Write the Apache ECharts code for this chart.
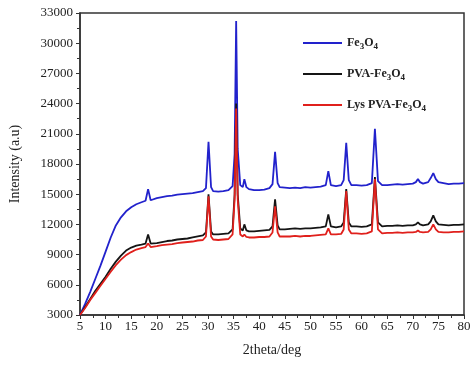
<!DOCTYPE html>
<html><head><meta charset="utf-8">
<script src="https://cdn.jsdelivr.net/npm/echarts@6/dist/echarts.min.js"></script>
<style>html,body{margin:0;padding:0;background:#fff}#c{width:474px;height:374px}</style>
</head><body><div id="c"></div>
<script>
var theta = [5,6,7,8,9,10,11,12,13,14,15,16,17,17.8,18.3,18.8,19,20,21,22,23,24,25,26,27,28,29,29.6,30.1,30.6,31,32,33,34,34.8,35.2,35.5,35.8,36.3,36.8,37.1,37.5,38,39,40,41,42,42.6,43.1,43.6,44,45,46,47,48,49,50,51,52,53,53.5,54,55,56,56.5,57,57.5,58,59,60,61,62,62.6,63.2,64,65,66,67,68,69,70,70.6,71,71.4,72,73,73.5,74,74.5,75,76,77,78,79,80];
var fe3o4 = [3000,4100,5300,6600,7900,9300,10700,11900,12700,13300,13700,14000,14200,14350,15500,14400,14450,14600,14700,14800,14850,14950,15000,15050,15100,15200,15300,15600,20200,15700,15300,15250,15300,15400,15800,19000,32200,19500,15900,15700,16500,15700,15500,15400,15400,15450,15600,16000,19200,16100,15700,15650,15600,15650,15600,15700,15650,15700,15750,15900,17300,15900,15800,15900,16400,20100,16400,15900,15900,15850,15900,16100,21500,16300,15900,15900,15950,16000,15950,16000,16050,16200,16500,16200,16050,16200,16600,17100,16500,16200,16100,16000,16050,16050,16100];
var pvaFe3o4 = [3000,3800,4600,5400,6100,6800,7600,8300,8900,9400,9700,9900,10000,10100,11000,10100,10100,10150,10250,10350,10400,10500,10550,10600,10700,10800,10900,11200,15000,11300,11000,11000,11050,11100,11500,15000,24000,15000,11600,11400,12000,11400,11300,11300,11350,11400,11450,11800,14500,11900,11500,11500,11550,11600,11550,11600,11600,11650,11700,11800,13000,11800,11700,11800,12200,15500,12200,11800,11800,11750,11800,12000,16700,12200,11800,11850,11850,11900,11850,11900,11900,12000,12200,12000,11900,12000,12300,12900,12300,12000,11950,11900,11950,11950,12000];
var lysPvaFe3o4 = [3000,3700,4500,5200,5900,6600,7300,7950,8500,8950,9250,9500,9650,9750,10100,9750,9800,9850,9950,10000,10050,10150,10200,10250,10300,10400,10450,10800,14800,10800,10500,10450,10500,10550,11000,14500,23500,14500,11000,10800,11000,10750,10700,10700,10750,10750,10800,11200,13800,11200,10800,10800,10800,10850,10800,10850,10850,10900,10950,11000,11600,11000,11000,11050,11500,15300,11500,11100,11100,11050,11100,11300,16500,11500,11100,11150,11150,11200,11150,11200,11200,11250,11400,11250,11200,11250,11500,12000,11500,11250,11200,11200,11250,11250,11300];
var seriesNames = ['Fe3O4','PVA-Fe3O4','Lys PVA-Fe3O4'];
var legendLabels = ['Fe{s|3}O{s|4}','PVA-Fe{s|3}O{s|4}','Lys PVA-Fe{s|3}O{s|4}'];
var colors = ['#2222cc','#151515','#e0201c'];

function pairs(ys){ return theta.map(function(t,i){ return [t, ys[i]]; }); }
var all = [fe3o4, pvaFe3o4, lysPvaFe3o4];
var chart = echarts.init(document.getElementById('c'), null, {renderer:'canvas'});
var font = 'Liberation Serif';
chart.setOption({
  animation:false,
  backgroundColor:'#fff',
  grid:{left:77,right:10,top:13,bottom:59,show:true,borderColor:'#333',borderWidth:1.5,backgroundColor:'transparent'},
  legend:{
    orient:'vertical', left:298, top:32, itemWidth:39, itemHeight:2, itemGap:17, icon:'rect',
    data:seriesNames,
    formatter:function(n){ return legendLabels[seriesNames.indexOf(n)]; },
    textStyle:{fontFamily:font,fontSize:12,fontWeight:'bold',color:'#222',
      rich:{s:{fontFamily:font,fontSize:9,fontWeight:'bold',color:'#222',padding:[7,0,0,0]}}}
  },
  xAxis:{type:'value',min:5,max:80,interval:5,
    name:'2theta/deg',nameLocation:'middle',nameGap:28,
    nameTextStyle:{fontFamily:font,fontSize:14,color:'#222'},
    axisLine:{lineStyle:{color:'#333',width:1.5}},
    axisTick:{show:true,inside:false,length:4,lineStyle:{color:'#333'}},
    minorTick:{show:true,splitNumber:2,length:3,lineStyle:{color:'#333'}},
    splitLine:{show:false},
    axisLabel:{fontFamily:font,fontSize:13,color:'#222',margin:5}
  },
  yAxis:{type:'value',min:3000,max:33000,interval:3000,
    name:'Intensity (a.u)',nameLocation:'middle',nameGap:58,
    nameTextStyle:{fontFamily:font,fontSize:14,color:'#222'},
    axisLine:{show:true,lineStyle:{color:'#333',width:1.5}},
    axisTick:{show:true,inside:false,length:4,lineStyle:{color:'#333'}},
    minorTick:{show:true,splitNumber:2,length:3,lineStyle:{color:'#333'}},
    splitLine:{show:false},
    axisLabel:{fontFamily:font,fontSize:13,color:'#222',margin:7,formatter:function(v){return String(v);}}
  },
  series: all.map(function(ys,i){ return {
    name:seriesNames[i], type:'line', data:pairs(ys), symbol:'none', smooth:false,
    lineStyle:{color:colors[i],width:1.8}, itemStyle:{color:colors[i]}
  };})
});
</script></body></html>
